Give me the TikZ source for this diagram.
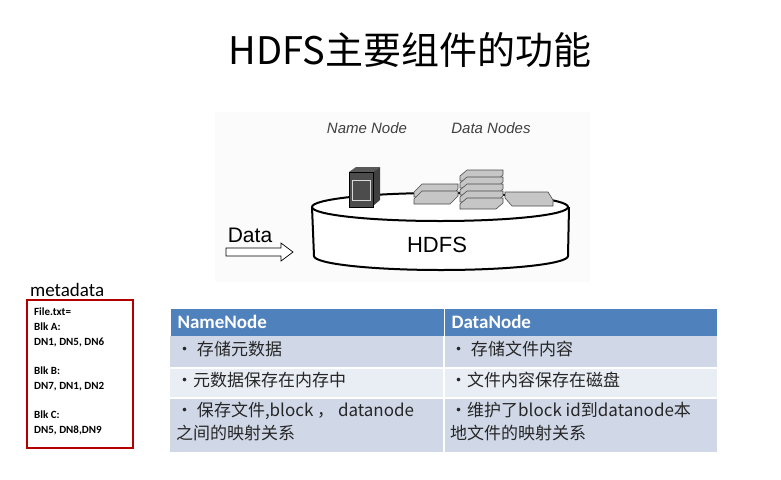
\documentclass[tikz,border=0pt]{standalone}
\usepackage{fontspec}
\setmainfont{Carlito}
\newfontfamily\cjk{Noto Sans CJK SC}
\newfontfamily\arial{Liberation Sans}
\definecolor{hdrblue}{RGB}{79,129,189}
\definecolor{rowblue}{RGB}{208,216,232}
\definecolor{rowlight}{RGB}{233,237,244}
\begin{document}
\begin{tikzpicture}[x=1pt,y=-1pt,
  hdr/.style={fill=hdrblue,draw=white,line width=1pt},
  cell/.style={anchor=north west,align=left,inner sep=2pt,font=\cjk\fontsize{17}{23}\selectfont,text=black!85},
  hcell/.style={anchor=west,font=\bfseries\fontsize{19}{21}\selectfont,text=white},
  srv/.style={fill=gray!45,draw=gray!60!black,line width=0.6pt}]
\useasboundingbox (0,0) rectangle (781,479);
\node (title) at (410,50) {\cjk\fontsize{38}{42}\selectfont HDFS主要组件的功能};
% image area
\fill[gray!3] (215,112) rectangle (590,282);
\node[font=\arial\itshape\fontsize{15}{16}\selectfont,text=black!75] (nn) at (367,128) {Name Node};
\node[font=\arial\itshape\fontsize{15}{16}\selectfont,text=black!75] (dn) at (491,128) {Data Nodes};
% cylinder
\draw[line width=2pt,fill=white] (312,207) -- (314,256) arc[start angle=180,end angle=0,x radius=127,y radius=14] -- (569,207);
\draw[line width=2pt,fill=white] (440,207) ellipse[x radius=128,y radius=14];
% name node server
\fill[gray!70!black] (349,172) -- (356,167) -- (380,167) -- (373,172) -- cycle;
\fill[gray!50!black] (373,172) -- (380,167) -- (380,200) -- (373,206) -- cycle;
\draw[fill=gray!60!black,draw=black] (349,172) rectangle (373,207);
\draw[gray!30] (352,180) rectangle (370,200);
% data nodes
\foreach \y in {192,199} {\draw[srv] (414,\y) -- (422,\y-8) -- (458,\y-8) -- (458,\y-3) -- (450,\y+5) -- (414,\y+5) -- cycle;}
\foreach \y in {176,183,190,197,204} {\draw[srv] (460,\y) -- (467,\y-6) -- (503,\y-6) -- (503,\y-1) -- (496,\y+5) -- (460,\y+5) -- cycle;}
\draw[srv] (505,192) -- (548,192) -- (553,200) -- (553,206) -- (512,206) -- (505,198) -- cycle;
\node[font=\arial\fontsize{22}{24}\selectfont] (hdfs) at (437,245) {HDFS};
\node[font=\arial\fontsize{21}{23}\selectfont] (data) at (250,235) {Data};
\draw[fill=white,line width=0.7pt] (226,248) -- (281,248) -- (281,243) -- (293,252) -- (281,261) -- (281,256) -- (226,256) -- cycle;
% metadata
\node[anchor=west,inner sep=1pt,font=\fontsize{19}{20}\selectfont] (md) at (29,290) {metadata};
\draw[red!70!black,line width=1.3pt] (27,300) rectangle (133,448);
\node[anchor=north west,align=left,inner sep=0pt,font=\bfseries\fontsize{11}{15}\selectfont] (mdt) at (34,308) {File.txt=\\Blk A:\\DN1, DN5, DN6\\[14pt]Blk B:\\DN7, DN1, DN2\\[14pt]Blk C:\\DN5, DN8,DN9};
% table
\draw[hdr] (170,308) rectangle (444,336);
\draw[hdr] (444,308) rectangle (717,336);
\fill[rowblue] (170,336) rectangle (717,452);
\fill[rowlight] (170,368) rectangle (717,398);
\draw[white,line width=1.2pt] (170,368) -- (717,368) (170,398) -- (717,398) (444,336) -- (444,452);
\node[hcell] (h1) at (174,322) {NameNode};
\node[hcell] (h2) at (448,322) {DataNode};
\node[cell] (a1) at (174,339) {• 存储元数据};
\node[cell] (b1) at (448,339) {• 存储文件内容};
\node[cell] (a2) at (174,370) {•元数据保存在内存中};
\node[cell] (b2) at (448,370) {•文件内容保存在磁盘};
\node[cell] (a3) at (174,400) {• 保存文件,block ， datanode\\之间的映射关系};
\node[cell] (b3) at (448,400) {•维护了block id到datanode本\\地文件的映射关系};
\end{tikzpicture}
\end{document}
